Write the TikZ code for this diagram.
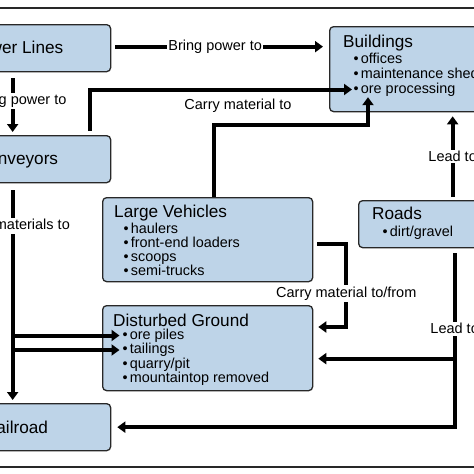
\documentclass[tikz,border=0pt]{standalone}
\usepackage{fontspec}
\setmainfont{Liberation Sans}
\usetikzlibrary{arrows.meta}
\definecolor{boxfill}{RGB}{190,212,232}
\definecolor{boxline}{RGB}{40,40,40}
\begin{document}
\begin{tikzpicture}[x=1pt,y=-1pt,
  box/.style={draw=boxline, fill=boxfill, line width=1.3pt, rounded corners=4pt, anchor=north west, inner sep=0pt},
  ttl/.style={font=\fontsize{17.2}{20}\selectfont, inner sep=0pt, anchor=base west},
  itm/.style={font=\fontsize{14.4}{17}\selectfont, inner sep=0pt, anchor=base west, text height=10pt, text depth=3pt},
  conn/.style={line width=4pt, -{Triangle[length=8pt,width=11pt]}},
  lbl/.style={font=\fontsize{14.5}{17}\selectfont, fill=white, inner sep=1.5pt},
  lbltxt/.style={font=\fontsize{14.5}{17}\selectfont, inner sep=0pt},
  frame/.style={line width=2pt, draw=boxline}]
\useasboundingbox (0,0) rectangle (474,474);
\clip (0,0) rectangle (474,474);
\fill[white] (0,0) rectangle (474,474);

% frame rules
\draw[frame] (0,8) -- (474,8);
\draw[frame] (0,467) -- (474,467);

% boxes
\node[box, minimum width=196pt, minimum height=47pt] (pl) at (-86,24) {};
\node[box, minimum width=196pt, minimum height=47pt] (cv) at (-86,135) {};
\node[box, minimum width=196pt, minimum height=47pt] (rr) at (-86,403) {};
\node[box, minimum width=220pt, minimum height=85pt] (bd) at (329,26) {};
\node[box, minimum width=210pt, minimum height=84pt] (lv) at (102,197) {};
\node[box, minimum width=210pt, minimum height=85pt] (dg) at (102,305) {};
\node[box, minimum width=200pt, minimum height=47pt] (rd) at (358,200) {};

% texts
\node[ttl, anchor=base] (plt) at (16,53) {Power Lines};
\node[ttl, anchor=base] (cvt) at (17,164) {Conveyors};
\node[ttl, anchor=base] (rrt) at (16,433) {Railroad};

\node[ttl] (bdt) at (343,47) {Buildings};
\node[itm] (bd1) at (353.5,63) {•\kern2.2pt offices};
\node[itm] (bd2) at (353.5,78) {•\kern2.2pt maintenance sheds};
\node[itm] (bd3) at (353.5,93) {•\kern2.2pt ore processing};

\node[ttl] (lvt) at (114,217) {Large Vehicles};
\node[itm] (lv1) at (123.5,233) {•\kern2.2pt haulers};
\node[itm] (lv2) at (123.5,247) {•\kern2.2pt front-end loaders};
\node[itm] (lv3) at (123.5,261) {•\kern2.2pt scoops};
\node[itm] (lv4) at (123.5,275) {•\kern2.2pt semi-trucks};

\node[ttl] (dgt) at (113,326) {Disturbed Ground};
\node[itm] (dg1) at (122.5,339) {•\kern2.2pt ore piles};
\node[itm] (dg2) at (122.5,353.5) {•\kern2.2pt tailings};
\node[itm] (dg3) at (122.5,368) {•\kern2.2pt quarry/pit};
\node[itm] (dg4) at (122.5,382.5) {•\kern2.2pt mountaintop removed};

\node[ttl] (rdt) at (372,219.5) {Roads};
\node[itm] (rd1) at (382.5,236) {•\kern2.2pt dirt/gravel};

% helper coordinates
\coordinate (t1) at (pl.east -| bd.west);
\coordinate (t6) at (rd.north |- bd.south);
\coordinate (dgin) at ([xshift=5pt,yshift=-10.5pt]dg.east);
\coordinate (rdb) at ([xshift=-4pt]rd.south);

% connectors
\draw[conn] ([xshift=4pt,yshift=1.5pt]pl.east) -- ([xshift=-6pt,yshift=1.5pt]t1)
  node[lbl, midway, xshift=-4pt] (l1) {Bring power to};
\draw[conn] ([yshift=-6pt]pl.south) -- ([yshift=3pt]cv.north)
  node[lbl, pos=0.42, xshift=7pt] (l2) {Bring power to};
\draw[conn] ([yshift=-7pt]cv.south) -- ([yshift=3pt]rr.north)
  node[lbl, pos=0.17] (l3) {Carry materials to};
\draw[conn] (cv.south |- dg1.west) -- ([xshift=-3pt]dg1.west);
\draw[conn] (cv.south |- dg2.west) -- ([xshift=-3pt]dg2.west);

\draw[conn] ([xshift=77pt,yshift=4pt]cv.north) |- ([xshift=-1.5pt]bd3.west);
\node[lbltxt] (l4) at (238,106) {Carry material to};

\draw[conn] ([xshift=6pt]lv.north) -- ++(0,-72) -| ([xshift=14.5pt,yshift=-1pt]bd3.south west);

\draw[conn] ([xshift=4pt,yshift=-4pt]lv.east) -- ++(29,0) |- ([xshift=5pt,yshift=-22pt]dg.north east)
  node[lbl, pos=0.3] (l5) {Carry material to/from};

\draw[conn] ([xshift=-6pt,yshift=3pt]rd.north) -- ([xshift=-6pt,yshift=-4pt]t6)
  node[lbl, midway] (l6) {Lead to};

\draw[conn] ([yshift=-5pt]rdb) |- ([xshift=6pt]rr.east)
  node[lbl, pos=0.217] (l7) {Lead to};
\draw[conn] (rdb |- dgin) -- (dgin);
\end{tikzpicture}
\end{document}
